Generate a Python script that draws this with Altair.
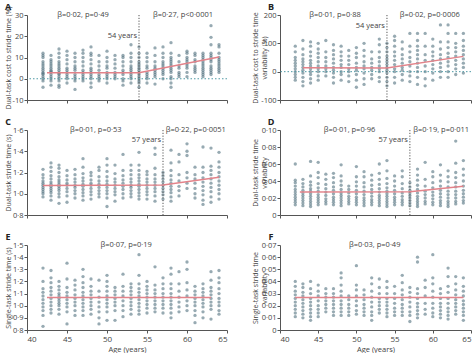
import altair as alt
import pandas as pd

AGES = list(range(42, 65))

A_VALUES = [
    [-4, -1, 0, 1, 2, 2.5, 3, 4, 5, 6, 7, 8, 10, 11, 12],
    [-3, -1, 0, 1, 2, 3, 3.5, 4, 5, 6, 7, 8, 9, 11],
    [-4, -3, -1, 0, 1, 2, 2.5, 3, 4, 5, 6, 7, 8, 10, 12, 14],
    [-2, 0, 1, 2, 3, 4, 5, 7, 9, 11, 13],
    [-5, -1, 0, 1, 2, 4, 5, 6, 8, 10, 12],
    [-1, 0, 1, 2, 3, 4, 6, 8, 10, 12, 13.5],
    [-4, -2, 0, 1, 2, 3, 4, 5, 7, 9, 11, 12, 15],
    [-1, 0, 1, 2, 4, 6, 8, 11],
    [-2, 0, 1, 2, 3, 5, 6, 8, 10, 13],
    [0, 1, 2, 3, 5, 7, 9, 11],
    [-3, -1, 0, 2, 3, 4, 6, 8, 10, 11],
    [-2, 0, 1, 2, 3, 4, 5, 6, 8, 10, 12, 16],
    [-4, -2, -1, 0, 1, 2, 3, 4, 5, 6, 7, 8, 10, 12, 15],
    [-2, 0, 1, 2, 3, 5, 6, 8, 10, 12],
    [-2.5, 1, 2, 3, 4, 5, 6, 8, 11, 14.5],
    [0, 2, 3, 4, 5, 6, 7, 8, 10, 12, 15],
    [-4, -2, 0, 1, 3, 4, 5, 6, 7, 8, 9, 10, 12, 17],
    [1, 2, 3, 5, 6, 8, 11],
    [1, 3, 5, 6, 7, 8, 9, 10, 12, 13],
    [3, 4, 5, 6, 8, 9, 11, 12],
    [1, 2, 3, 4, 5, 6, 7, 8, 9, 10, 11, 12],
    [2, 3, 4, 5, 6, 8, 9, 10, 11, 12, 16, 19.5, 25],
    [3, 4, 5, 6, 7, 8, 9, 10, 12, 15, 16],
]

B_VALUES = [
    [-30, -20, -10, 0, 10, 20, 30, 40, 50, 70, 90],
    [-50, -35, -20, -5, 5, 15, 25, 35, 45, 60, 80, 110],
    [-40, -25, -10, 0, 10, 20, 30, 40, 55, 70, 90, 105],
    [-30, -15, 0, 10, 20, 35, 50, 65, 80, 100],
    [-15, 0, 10, 20, 35, 50, 70, 110],
    [-40, -20, -5, 5, 15, 30, 45, 60, 75, 95],
    [-30, -10, 0, 15, 25, 40, 55, 70, 90],
    [-35, -15, 0, 10, 25, 40, 55, 75],
    [-55, -30, -10, 5, 15, 30, 50, 65, 85],
    [-45, -25, -5, 10, 20, 35, 55, 75, 100],
    [-25, -10, 5, 15, 30, 45, 70],
    [-35, -20, 0, 10, 20, 35, 50, 70, 95, 115],
    [-50, -35, -20, -5, 5, 15, 25, 35, 45, 55, 70, 85, 100],
    [-40, -20, 0, 10, 25, 40, 55, 70, 90, 110, 125],
    [-30, -10, 5, 15, 30, 45, 60, 80, 105],
    [-35, -15, 0, 20, 35, 50, 70, 90, 135],
    [-45, -20, 0, 15, 30, 45, 60, 75, 90, 110, 135],
    [-50, -25, 0, 20, 40, 60, 90, 135],
    [-30, -5, 10, 25, 40, 55, 70, 90, 115],
    [-20, 0, 15, 30, 45, 60, 80, 105, 165],
    [-20, 0, 20, 35, 50, 65, 85, 105, 135, 165],
    [-10, 10, 25, 40, 55, 70, 85, 100, 135],
    [-5, 15, 30, 45, 60, 75, 90, 110, 135],
]

C_VALUES = [
    [0.97, 1.00, 1.02, 1.04, 1.06, 1.08, 1.10, 1.12, 1.15, 1.18, 1.23],
    [0.94, 0.98, 1.01, 1.03, 1.05, 1.07, 1.09, 1.11, 1.14, 1.17, 1.21, 1.25, 1.29],
    [0.91, 0.97, 1.00, 1.03, 1.05, 1.07, 1.09, 1.11, 1.13, 1.16, 1.20, 1.24, 1.27],
    [0.92, 0.98, 1.02, 1.05, 1.08, 1.10, 1.13, 1.17, 1.22],
    [0.96, 1.00, 1.03, 1.06, 1.08, 1.11, 1.14, 1.18, 1.23],
    [0.94, 0.98, 1.01, 1.04, 1.07, 1.09, 1.12, 1.15, 1.19, 1.25, 1.33],
    [0.95, 0.99, 1.02, 1.05, 1.08, 1.10, 1.13, 1.17, 1.20],
    [0.97, 1.00, 1.03, 1.06, 1.09, 1.12, 1.16, 1.22, 1.25],
    [0.88, 0.96, 1.00, 1.03, 1.06, 1.09, 1.12, 1.16, 1.21, 1.27, 1.33],
    [0.93, 0.99, 1.02, 1.05, 1.08, 1.11, 1.14, 1.19, 1.27],
    [0.96, 1.00, 1.04, 1.07, 1.10, 1.13, 1.17, 1.22, 1.37],
    [0.97, 1.00, 1.03, 1.06, 1.08, 1.11, 1.14, 1.18, 1.22, 1.27],
    [0.95, 0.98, 1.01, 1.04, 1.07, 1.09, 1.12, 1.15, 1.18, 1.22, 1.27, 1.39],
    [0.95, 0.99, 1.02, 1.05, 1.08, 1.11, 1.14, 1.18, 1.21],
    [0.93, 0.98, 1.02, 1.05, 1.08, 1.11, 1.14, 1.18, 1.24, 1.37, 1.43],
    [0.95, 0.99, 1.02, 1.05, 1.08, 1.11, 1.14, 1.17, 1.20],
    [0.93, 0.97, 1.01, 1.04, 1.07, 1.10, 1.13, 1.17, 1.22, 1.29, 1.41],
    [0.98, 1.03, 1.07, 1.12, 1.18, 1.30, 1.37],
    [1.05, 1.10, 1.15, 1.20, 1.36, 1.40, 1.47],
    [0.96, 1.00, 1.05, 1.10, 1.14, 1.18, 1.25],
    [0.90, 0.94, 0.99, 1.03, 1.07, 1.11, 1.15, 1.20, 1.25, 1.44],
    [0.92, 0.97, 1.02, 1.06, 1.10, 1.14, 1.18, 1.22, 1.26, 1.43],
    [0.95, 1.00, 1.04, 1.08, 1.12, 1.16, 1.20, 1.25, 1.30, 1.39],
]

D_VALUES = [
    [0.012, 0.015, 0.018, 0.021, 0.024, 0.027, 0.030, 0.034, 0.038, 0.041, 0.060],
    [0.011, 0.014, 0.017, 0.020, 0.023, 0.026, 0.029, 0.033, 0.037, 0.042],
    [0.010, 0.013, 0.016, 0.019, 0.022, 0.025, 0.028, 0.031, 0.035, 0.039, 0.046, 0.063],
    [0.012, 0.015, 0.018, 0.021, 0.024, 0.028, 0.032, 0.037, 0.044, 0.050, 0.062],
    [0.013, 0.016, 0.019, 0.023, 0.027, 0.031, 0.036, 0.042, 0.048],
    [0.012, 0.015, 0.018, 0.021, 0.025, 0.029, 0.033, 0.038, 0.044, 0.049],
    [0.011, 0.014, 0.017, 0.020, 0.023, 0.026, 0.030, 0.035, 0.040, 0.046, 0.059],
    [0.013, 0.016, 0.019, 0.022, 0.026, 0.030, 0.034],
    [0.012, 0.015, 0.018, 0.021, 0.025, 0.029, 0.034, 0.039, 0.045, 0.057],
    [0.011, 0.014, 0.017, 0.020, 0.024, 0.028, 0.033, 0.038, 0.045, 0.051],
    [0.012, 0.015, 0.018, 0.022, 0.026, 0.030, 0.035, 0.041, 0.047],
    [0.011, 0.014, 0.017, 0.020, 0.023, 0.027, 0.031, 0.036, 0.042, 0.049, 0.060],
    [0.010, 0.013, 0.016, 0.019, 0.022, 0.025, 0.028, 0.032, 0.037, 0.043, 0.052, 0.064],
    [0.012, 0.015, 0.018, 0.021, 0.025, 0.029, 0.034, 0.040, 0.046],
    [0.012, 0.015, 0.018, 0.022, 0.026, 0.031, 0.037, 0.045, 0.052],
    [0.011, 0.014, 0.017, 0.020, 0.023, 0.026, 0.029, 0.033, 0.038],
    [0.010, 0.013, 0.016, 0.019, 0.022, 0.026, 0.030, 0.035, 0.041, 0.047, 0.054],
    [0.013, 0.016, 0.020, 0.024, 0.028, 0.034, 0.042, 0.062],
    [0.012, 0.015, 0.019, 0.023, 0.027, 0.032, 0.038, 0.045, 0.051],
    [0.011, 0.014, 0.017, 0.021, 0.025, 0.029, 0.034, 0.040, 0.047, 0.059],
    [0.010, 0.013, 0.016, 0.020, 0.024, 0.028, 0.033, 0.039, 0.045, 0.052],
    [0.013, 0.016, 0.020, 0.024, 0.028, 0.033, 0.038, 0.044, 0.050, 0.061, 0.087],
    [0.014, 0.017, 0.021, 0.025, 0.029, 0.034, 0.040, 0.047, 0.054, 0.064],
]

E_VALUES = [
    [0.83, 0.92, 0.96, 0.99, 1.02, 1.05, 1.08, 1.11, 1.14, 1.20, 1.31],
    [0.94, 0.97, 1.00, 1.03, 1.06, 1.09, 1.12, 1.15, 1.19, 1.23, 1.29],
    [0.93, 0.97, 1.00, 1.02, 1.04, 1.06, 1.08, 1.10, 1.13, 1.16, 1.20],
    [0.85, 0.95, 0.99, 1.02, 1.05, 1.08, 1.11, 1.15, 1.22, 1.35],
    [0.92, 0.96, 1.00, 1.03, 1.06, 1.09, 1.13, 1.17, 1.21],
    [0.92, 0.96, 0.99, 1.02, 1.05, 1.08, 1.11, 1.15, 1.19, 1.24, 1.30],
    [0.93, 0.97, 1.00, 1.03, 1.06, 1.09, 1.12, 1.16, 1.22],
    [0.85, 0.90, 0.95, 0.99, 1.03, 1.07, 1.12, 1.21],
    [0.88, 0.95, 0.99, 1.02, 1.05, 1.08, 1.12, 1.16, 1.20, 1.25],
    [0.88, 0.96, 1.00, 1.03, 1.06, 1.09, 1.12, 1.15],
    [0.91, 0.96, 1.00, 1.04, 1.08, 1.12, 1.16, 1.26],
    [0.93, 0.97, 1.00, 1.03, 1.06, 1.09, 1.12, 1.15, 1.18],
    [0.93, 0.96, 0.99, 1.02, 1.05, 1.08, 1.11, 1.14, 1.18, 1.25, 1.42],
    [0.94, 0.98, 1.01, 1.04, 1.07, 1.10, 1.13, 1.16, 1.20],
    [0.95, 0.98, 1.01, 1.04, 1.07, 1.10, 1.13, 1.17, 1.32],
    [0.94, 0.98, 1.01, 1.04, 1.07, 1.10, 1.14, 1.18, 1.23],
    [0.90, 0.94, 0.98, 1.01, 1.04, 1.07, 1.10, 1.14, 1.18, 1.26, 1.31],
    [0.95, 0.99, 1.03, 1.07, 1.12, 1.18, 1.28],
    [0.96, 1.00, 1.04, 1.08, 1.13, 1.19, 1.30, 1.36],
    [0.86, 0.92, 0.96, 1.00, 1.03, 1.06, 1.09, 1.12, 1.16],
    [0.90, 0.95, 0.99, 1.02, 1.05, 1.08, 1.11, 1.14, 1.18],
    [0.89, 0.97, 1.00, 1.03, 1.06, 1.09, 1.12, 1.15, 1.21, 1.28],
    [0.93, 0.96, 1.00, 1.03, 1.06, 1.10, 1.14, 1.19, 1.23, 1.29],
]

F_VALUES = [
    [0.011, 0.014, 0.017, 0.020, 0.023, 0.026, 0.029, 0.032, 0.036, 0.040],
    [0.010, 0.013, 0.016, 0.019, 0.022, 0.025, 0.028, 0.031, 0.035, 0.038],
    [0.008, 0.011, 0.014, 0.017, 0.020, 0.023, 0.026, 0.030, 0.034, 0.040],
    [0.011, 0.014, 0.017, 0.020, 0.024, 0.028, 0.032, 0.037],
    [0.015, 0.018, 0.021, 0.024, 0.027, 0.030, 0.034],
    [0.012, 0.015, 0.018, 0.021, 0.024, 0.027, 0.030, 0.034],
    [0.012, 0.015, 0.018, 0.021, 0.024, 0.028, 0.032, 0.037, 0.043, 0.047],
    [0.012, 0.015, 0.018, 0.021, 0.025, 0.028],
    [0.013, 0.016, 0.020, 0.024, 0.028, 0.033, 0.037, 0.053],
    [0.012, 0.015, 0.018, 0.021, 0.025, 0.029, 0.033],
    [0.008, 0.012, 0.015, 0.019, 0.023, 0.027, 0.032, 0.038, 0.043],
    [0.014, 0.017, 0.020, 0.023, 0.026, 0.030, 0.035, 0.042],
    [0.011, 0.014, 0.017, 0.020, 0.023, 0.026, 0.030, 0.035, 0.040],
    [0.012, 0.015, 0.018, 0.022, 0.026, 0.030, 0.036],
    [0.012, 0.015, 0.018, 0.021, 0.025, 0.029, 0.033, 0.039, 0.045],
    [0.007, 0.012, 0.015, 0.019, 0.023, 0.027, 0.031, 0.035],
    [0.010, 0.013, 0.016, 0.019, 0.022, 0.026, 0.030, 0.034, 0.056, 0.060],
    [0.013, 0.017, 0.022, 0.028, 0.035, 0.041],
    [0.011, 0.014, 0.018, 0.022, 0.027, 0.032, 0.038, 0.043, 0.062],
    [0.010, 0.013, 0.016, 0.019, 0.022, 0.026, 0.030, 0.034],
    [0.009, 0.012, 0.015, 0.018, 0.022, 0.026, 0.031, 0.036, 0.044, 0.051],
    [0.013, 0.016, 0.019, 0.022, 0.025, 0.029, 0.033, 0.038, 0.044],
    [0.008, 0.012, 0.015, 0.018, 0.021, 0.024, 0.028, 0.032, 0.036, 0.043],
]

# regression lines (breakpoints)
A_LINE_X = [42.5, 54, 64]; A_LINE_Y = [2.8, 2.8, 10.2]
B_LINE_X = [43, 54, 64]; B_LINE_Y = [14, 13, 54]
C_LINE_X = [42, 57, 64]; C_LINE_Y = [1.077, 1.083, 1.156]
D_LINE_X = [42.6, 57, 64]; D_LINE_Y = [0.0272, 0.0274, 0.0337]
E_LINE_X = [42.5, 63]; E_LINE_Y = [1.068, 1.068]
F_LINE_X = [42, 64]; F_LINE_Y = [0.0268, 0.0268]

A_TEXT_X = [47, 59.5]; A_TEXTS = ["β=0·02, p=0·49", "β=0·27, p<0·0001"]
B_TEXT_X = [47.2, 59.6]; B_TEXTS = ["β=0·01, p=0·88", "β=0·02, p=0·0006"]
C_TEXT_X = [48.6, 61.1]; C_TEXTS = ["β=0·01, p=0·53", "β=0·22, p=0·0051"]
D_TEXT_X = [49.1, 61.1]; D_TEXTS = ["β=0·01, p=0·96", "β=0·19, p=0·011"]
E_TEXT_X = [52.4]; E_TEXTS = ["β=0·07, p=0·19"]
F_TEXT_X = [52.4]; F_TEXTS = ["β=0·03, p=0·49"]

X_TICKS = [40, 45, 50, 55, 60, 65]

FONT = "Open Sans"
PT_COLOR = "#52717f"
LINE_COLOR = "#e3838a"
TXT = "#444444"


def panel(values, lx, ly, ydom, yticks, lexpr, ytitle, title_x, letter, letter_x,
          tx, texts, cut=None, cut_dy=10, zero=False, width=200, bottom=False):
    pts = pd.DataFrame([(a, v) for a, vs in zip(AGES, values) for v in vs], columns=["age", "v"])
    xaxis = alt.Axis(values=X_TICKS, tickSize=3, labels=bottom, labelPadding=2,
                     labelOverlap=False, titlePadding=2, labelFontSize=8, titleFontSize=7.5)
    x = alt.X("age:Q", scale=alt.Scale(domain=[40, 65], nice=False, zero=False), axis=xaxis,
              title="Age (years)" if bottom else None)
    y = alt.Y("v:Q", scale=alt.Scale(domain=ydom, nice=False, zero=False),
              axis=alt.Axis(values=yticks, labelExpr=lexpr, tickSize=3, labelPadding=1,
                            labelOverlap=False,
                            titleX=title_x, titleY=42.5, titleAngle=270,
                            titleAlign="center", titleBaseline="middle"),
              title=ytitle)
    layers = []
    layers.append(alt.Chart(pts).mark_circle(size=11, color=PT_COLOR, opacity=0.6).encode(x=x, y=y))
    if zero:
        layers.append(alt.Chart(pd.DataFrame({"v": [0]})).mark_rule(
            color="#4f9aa5", strokeDash=[1.5, 2], strokeWidth=1).encode(y=y))
    if cut is not None:
        cdf = pd.DataFrame({"age": [cut], "t": [f"{cut} years"]})
        layers.append(alt.Chart(cdf).mark_rule(color="#555555", strokeDash=[1.2, 1.6],
                                               strokeWidth=1).encode(x=x))
        layers.append(alt.Chart(cdf).mark_text(align="right", baseline="middle", dx=-2,
                                               font=FONT, fontSize=7.5, color=TXT).encode(
            x=x, y=alt.value(cut_dy), text="t:N"))
    ldf = pd.DataFrame({"age": lx, "v": ly})
    layers.append(alt.Chart(ldf).mark_line(color=LINE_COLOR, strokeWidth=1.5).encode(x=x, y=y))
    tdf = pd.DataFrame({"age": tx, "t": texts})
    layers.append(alt.Chart(tdf).mark_text(align="center", baseline="middle", font=FONT,
                                           fontSize=7.5, color=TXT).encode(
        x=x, y=alt.value(0), text="t:N"))
    layers.append(alt.Chart(pd.DataFrame({"t": [letter]})).mark_text(
        align="center", baseline="middle", font=FONT, fontSize=9, fontWeight="bold",
        color="#222222").encode(x=alt.value(letter_x), y=alt.value(-8.5), text="t:N"))
    return alt.layer(*layers).properties(width=width, height=85)


MINUS = "replace(datum.label, '−', '-')"
F1 = "replace(format(datum.value, '.1f'), '.', '·')"
F2 = "datum.value == 0 ? '0' : replace(format(datum.value, '.2f'), '.', '·')"

pA = panel(A_VALUES, A_LINE_X, A_LINE_Y, [-10, 30], [-10, 0, 10, 20, 30], MINUS,
           "Dual-task cost to stride time (%)", -19, "A", -19, A_TEXT_X, A_TEXTS,
           cut=54, cut_dy=21, zero=True, width=200)
pB = panel(B_VALUES, B_LINE_X, B_LINE_Y, [-100, 200], [-100, 0, 100, 200], MINUS,
           ["Dual-task cost to stride time", "variability (%)"], -25, "B", -9, B_TEXT_X, B_TEXTS,
           cut=54, cut_dy=11, zero=True, width=191)
pC = panel(C_VALUES, C_LINE_X, C_LINE_Y, [0.8, 1.6], [0.8, 1.0, 1.2, 1.4, 1.6], F1,
           "Dual-task stride time (s)", -19, "C", -19, C_TEXT_X, C_TEXTS,
           cut=57, cut_dy=10, width=200)
pD = panel(D_VALUES, D_LINE_X, D_LINE_Y, [0, 0.10], [0, 0.02, 0.04, 0.06, 0.08, 0.10], F2,
           ["Dual-task stride time", "variability"], -25, "D", -9, D_TEXT_X, D_TEXTS,
           cut=57, cut_dy=10, width=191)
pE = panel(E_VALUES, E_LINE_X, E_LINE_Y, [0.8, 1.5], [0.8, 0.9, 1.0, 1.1, 1.2, 1.3, 1.4, 1.5], F1,
           "Single-task stride time (s)", -19, "E", -19, E_TEXT_X, E_TEXTS,
           width=200, bottom=True)
pF = panel(F_VALUES, F_LINE_X, F_LINE_Y, [0, 0.07], [0, 0.01, 0.02, 0.03, 0.04, 0.05, 0.06, 0.07], F2,
           ["Single-task stride time", "variability"], -25, "F", -9, F_TEXT_X, F_TEXTS,
           width=191, bottom=True)

chart = alt.concat(pA, pB, pC, pD, pE, pF, columns=2,
                   spacing=alt.RowColnumber(row=30, column=53), bounds="flush").properties(
    padding={"left": 3, "top": 2, "right": 0, "bottom": 0},
    background="white"
).configure_view(strokeWidth=0).configure_axis(
    grid=False, domainColor="#555555", tickColor="#555555", labelColor=TXT, titleColor=TXT,
    labelFont=FONT, titleFont=FONT, labelFontSize=7.5, titleFontSize=7,
    titleFontWeight="normal"
)

chart.save("out.html", embed_options={"renderer": "svg", "actions": False})
